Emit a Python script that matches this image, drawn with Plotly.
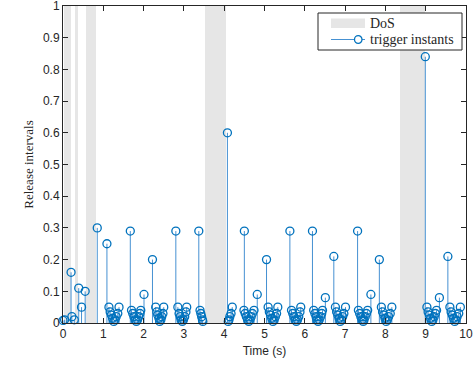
import plotly.graph_objects as go

# DoS attack intervals (s)
dos_start = [0.03, 0.31, 0.56, 3.52, 8.35]
dos_end = [0.19, 0.38, 0.83, 4.05, 8.98]

# Larger release intervals (trigger instants, s) and values
big_t = [0.20, 0.39, 0.46, 0.55, 0.85, 1.09, 1.67, 2.01, 2.22, 2.80, 3.37, 4.08,
         4.50, 4.82, 5.05, 5.63, 6.19, 6.51, 6.72, 7.31, 7.64, 7.85, 8.99, 9.34, 9.55]
big_v = [0.16, 0.11, 0.05, 0.10, 0.30, 0.25, 0.29, 0.09, 0.20, 0.29, 0.29, 0.60,
         0.29, 0.09, 0.20, 0.29, 0.29, 0.08, 0.21, 0.29, 0.09, 0.20, 0.84, 0.08, 0.21]

# Small release intervals (dense clusters)
small_t = [0.00, 0.04, 0.22, 0.28,
           1.14, 1.17, 1.20, 1.23, 1.26, 1.29, 1.32, 1.36, 1.39,
           1.70, 1.73, 1.76, 1.79, 1.82, 1.85, 1.88, 1.91, 1.93,
           2.30, 2.33, 2.35, 2.38, 2.40, 2.43, 2.45, 2.48, 2.50,
           2.85, 2.88, 2.91, 2.93, 2.96, 2.99, 3.02, 3.05, 3.07,
           3.40, 3.42, 3.44, 3.46, 3.47,
           4.10, 4.12, 4.14, 4.17, 4.20,
           4.49, 4.52, 4.55, 4.58, 4.61, 4.64, 4.67, 4.70, 4.74,
           5.09, 5.12, 5.15, 5.18, 5.21, 5.24, 5.27, 5.30, 5.33,
           5.67, 5.70, 5.73, 5.76, 5.79, 5.82, 5.85, 5.88, 5.90,
           6.22, 6.25, 6.28, 6.30, 6.33, 6.36, 6.39, 6.42, 6.44,
           6.76, 6.79, 6.82, 6.85, 6.88, 6.91, 6.94, 6.97, 7.01,
           7.33, 7.36, 7.39, 7.42, 7.45, 7.47, 7.50, 7.53, 7.56,
           7.90, 7.93, 7.96, 7.99, 8.02, 8.05, 8.08, 8.12, 8.16,
           9.03, 9.06, 9.09, 9.12, 9.15, 9.18, 9.21, 9.24, 9.27,
           9.60, 9.63, 9.66, 9.69, 9.72, 9.75, 9.78, 9.82, 9.86]
small_v = [0.008, 0.01, 0.02, 0.01,
           0.05, 0.035, 0.025, 0.015, 0.005, 0.01, 0.02, 0.03, 0.05,
           0.04, 0.03, 0.02, 0.01, 0.005, 0.01, 0.02, 0.03, 0.04,
           0.05, 0.035, 0.025, 0.015, 0.005, 0.01, 0.02, 0.03, 0.05,
           0.05, 0.03, 0.02, 0.01, 0.005, 0.01, 0.02, 0.035, 0.05,
           0.04, 0.03, 0.02, 0.01, 0.005,
           0.005, 0.01, 0.02, 0.03, 0.05,
           0.04, 0.03, 0.02, 0.01, 0.005, 0.01, 0.02, 0.03, 0.04,
           0.05, 0.035, 0.025, 0.015, 0.005, 0.01, 0.02, 0.03, 0.05,
           0.04, 0.03, 0.02, 0.01, 0.005, 0.01, 0.02, 0.035, 0.05,
           0.04, 0.03, 0.02, 0.01, 0.005, 0.01, 0.02, 0.03, 0.04,
           0.05, 0.035, 0.025, 0.015, 0.005, 0.01, 0.02, 0.03, 0.05,
           0.04, 0.03, 0.02, 0.01, 0.005, 0.01, 0.02, 0.03, 0.04,
           0.05, 0.035, 0.025, 0.015, 0.005, 0.01, 0.02, 0.03, 0.05,
           0.05, 0.035, 0.025, 0.015, 0.005, 0.01, 0.02, 0.03, 0.04,
           0.05, 0.035, 0.025, 0.015, 0.005, 0.01, 0.02, 0.03, 0.05]

x_ticks = [0, 1, 2, 3, 4, 5, 6, 7, 8, 9, 10]
y_ticks = [0, 0.1, 0.2, 0.3, 0.4, 0.5, 0.6, 0.7, 0.8, 0.9, 1]
y_ticktext = ["0", "0.1", "0.2", "0.3", "0.4", "0.5", "0.6", "0.7", "0.8", "0.9", "1"]
legend_labels = ["DoS", "trigger instants"]

all_t = big_t + small_t
all_v = big_v + small_v

BLUE = "#0072BD"
STEM = "rgb(70,145,210)"
W, H = 474, 389
ML, MR, MT, MB = 63, 8, 6, 66

fig = go.Figure()

# DoS shaded regions
fig.add_trace(go.Bar(
    x=[(s + e) / 2 for s, e in zip(dos_start, dos_end)],
    y=[1] * len(dos_start),
    width=[e - s for s, e in zip(dos_start, dos_end)],
    base=0,
    marker=dict(color="#E6E6E6", line=dict(width=0)),
    name="DoS", showlegend=False, hoverinfo="skip",
))

# stems
sx, sy = [], []
for t, v in zip(all_t, all_v):
    sx += [t, t, None]
    sy += [0, v, None]
fig.add_trace(go.Scatter(x=sx, y=sy, mode="lines",
                         line=dict(color=STEM, width=1),
                         showlegend=False, hoverinfo="skip", cliponaxis=False))
# markers
fig.add_trace(go.Scatter(x=all_t, y=all_v, mode="markers",
                         marker=dict(symbol="circle-open", size=8, color=BLUE,
                                     line=dict(width=1.3, color=BLUE)),
                         name="trigger instants", showlegend=False, cliponaxis=False))

# --- custom legend box (pixel layout -> paper coords) ---
pw, ph = W - ML - MR, H - MT - MB
def px(x):
    return (x - ML) / pw
def py(y):
    return 1 - (y - MT) / ph

shapes = [
    dict(type="rect", xref="paper", yref="paper", x0=px(318), x1=px(462), y0=py(50), y1=py(13),
         fillcolor="white", line=dict(color="#262626", width=1), layer="above"),
    dict(type="rect", xref="paper", yref="paper", x0=px(331), x1=px(365), y0=py(28), y1=py(18.5),
         fillcolor="#E6E6E6", line=dict(width=0), layer="above"),
    dict(type="line", xref="paper", yref="paper", x0=px(331), x1=px(365), y0=py(39.5), y1=py(39.5),
         line=dict(color=STEM, width=1), layer="above"),
    dict(type="circle", xref="paper", yref="paper", x0=px(354.5), x1=px(362), y0=py(43.3), y1=py(35.7),
         fillcolor="white", line=dict(color=BLUE, width=1.3), layer="above"),
]
annotations = [
    dict(xref="paper", yref="paper", x=px(368), y=py(y0), text=lab, showarrow=False,
         xanchor="left", yanchor="middle",
         font=dict(family="Liberation Serif, Times New Roman", size=14, color="#262626"))
    for lab, y0 in zip(legend_labels, [23, 39])
]

axis_common = dict(
    showgrid=False, zeroline=False, showline=True, linecolor="#262626",
    linewidth=1, mirror="ticks", ticks="inside", ticklen=5, tickcolor="#262626",
    automargin=False, ticklabeloverflow="allow",
    tickfont=dict(family="Liberation Sans, Arial", size=12, color="#262626"),
)

fig.update_layout(
    width=W, height=H,
    margin=dict(l=ML, r=MR, t=MT, b=MB),
    paper_bgcolor="white", plot_bgcolor="white",
    barmode="overlay", bargap=0,
    xaxis=dict(range=[0, 10], tickvals=x_ticks,
               title=dict(text="Time (s)", standoff=6,
                          font=dict(family="Liberation Sans, Arial", size=12, color="#262626")),
               **axis_common),
    yaxis=dict(range=[0, 1], tickvals=y_ticks, ticktext=y_ticktext,
               title=dict(text="Release intervals", standoff=6,
                          font=dict(family="Liberation Serif, Times New Roman", size=13, color="#262626")),
               **axis_common),
    shapes=shapes, annotations=annotations,
    showlegend=False,
)

fig.write_html("out.html", config={"displayModeBar": False},
               post_script="document.body.style.margin='0';document.body.style.overflow='hidden';")
